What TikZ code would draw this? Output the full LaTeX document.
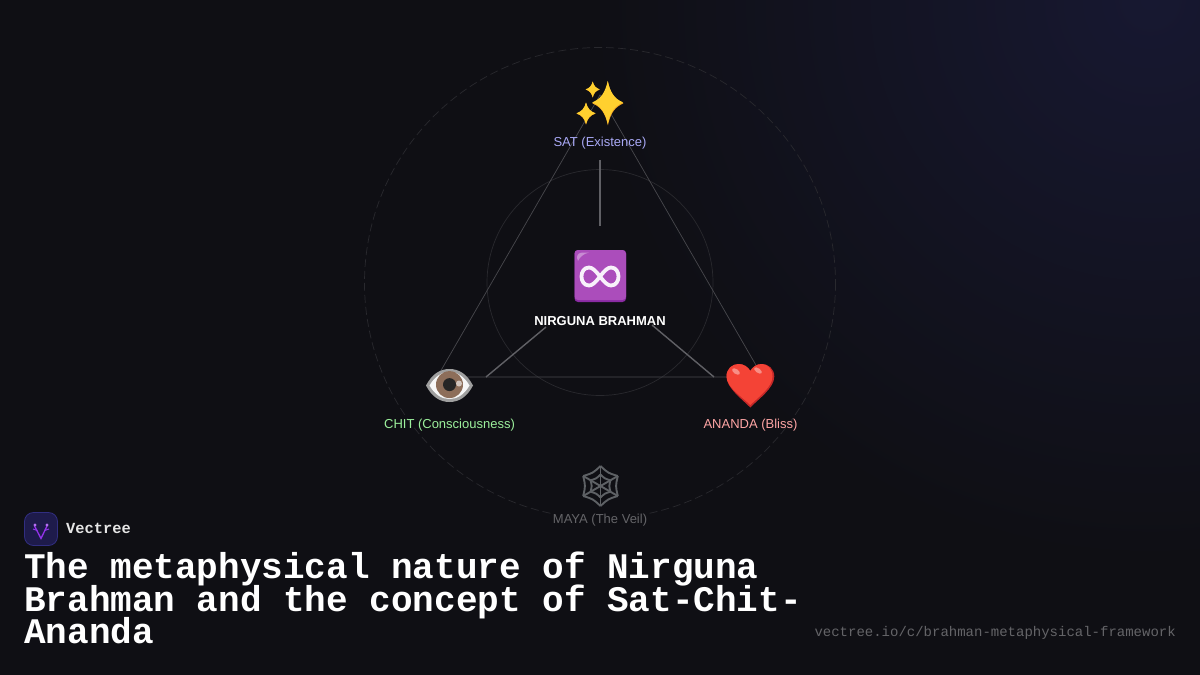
\documentclass[tikz,border=0pt]{standalone}
\usepackage{fontspec}
\setmainfont{Liberation Sans}
\setmonofont{Liberation Mono}
\definecolor{bgcol}{HTML}{0F0F14}
\definecolor{glowcol}{HTML}{171831}
\definecolor{satcol}{HTML}{A8A8F5}
\definecolor{chitcol}{HTML}{9CF09C}
\definecolor{anandacol}{HTML}{FFA5A5}
\definecolor{mayacol}{HTML}{646468}
\definecolor{ringcol}{HTML}{29292E}
\definecolor{triacol}{HTML}{48484D}
\definecolor{linkcol}{HTML}{606065}
\definecolor{starcol}{HTML}{FFD02F}
\definecolor{starlow}{HTML}{F5A623}
\definecolor{infcol}{HTML}{AB4DBB}
\definecolor{inflow}{HTML}{8A2BA3}
\definecolor{heartcol}{HTML}{F44336}
\definecolor{heartlow}{HTML}{C62828}
\definecolor{eyecol}{HTML}{8D6E5A}
\definecolor{webcol}{HTML}{5E6165}
\definecolor{logocol}{HTML}{1E1B4B}
\definecolor{logoedge}{HTML}{312E81}
\definecolor{logomark}{HTML}{9333EA}
\usepackage{tikz}
\usetikzlibrary{calc}
\tikzset{
  lab/.style={font=\fontsize{13}{15}\selectfont,inner sep=0pt},
  ttl/.style={font=\fontsize{36}{32.5}\selectfont\ttfamily\bfseries,white,inner sep=0pt,anchor=north west,align=left},
  weblin/.style={webcol,line width=1.9pt,line join=round}
}
% four-point star: colour, centre, half width, half height
\newcommand{\sparkle}[4]{%
  \fill[#1] ($(#2)+(0,-#4)$) .. controls ($(#2)+(0.16*#3,-0.45*#4)$) and ($(#2)+(0.45*#3,-0.16*#4)$) .. ($(#2)+(#3,0)$)
    .. controls ($(#2)+(0.45*#3,0.16*#4)$) and ($(#2)+(0.16*#3,0.45*#4)$) .. ($(#2)+(0,#4)$)
    .. controls ($(#2)+(-0.16*#3,0.45*#4)$) and ($(#2)+(-0.45*#3,0.16*#4)$) .. ($(#2)+(-#3,0)$)
    .. controls ($(#2)+(-0.45*#3,-0.16*#4)$) and ($(#2)+(-0.16*#3,-0.45*#4)$) .. cycle;}

\begin{document}
\begin{tikzpicture}[x=1pt,y=-1pt]
  \useasboundingbox (0,0) rectangle (1200,675);
  % ---------- background -------------------
  \fill[bgcol] (0,0) rectangle (1200,675);
  \begin{scope}
    \clip (0,0) rectangle (1200,675);
    \shade[inner color=glowcol,outer color=bgcol] (1150,0) circle (560);
  \end{scope}
  % ---------- rings and triangle -------------------
  \coordinate (centre) at (600,283);
  \coordinate (apex) at (600,95);
  \coordinate (left) at (437.2,377);
  \coordinate (right) at (762.8,377);
  \coordinate (supper) at (600,160);
  \coordinate (slower) at (600,226);
  \coordinate (lupper) at (546,327);
  \coordinate (llower) at (486,377);
  \coordinate (rupper) at (652,325);
  \coordinate (rlower) at (714,377);
  \draw[ringcol,line width=0.7pt,dash pattern=on 8pt off 4pt] (centre) circle (235.5);
  \draw[ringcol,line width=0.7pt] (600,282.5) circle (113);
  \draw[triacol,line width=0.7pt] (apex) -- (right) -- (left) -- cycle;
  \draw[linkcol,line width=1.4pt] (supper) -- (slower);
  \draw[linkcol,line width=1.4pt] (lupper) -- (llower);
  \draw[linkcol,line width=1.4pt] (rupper) -- (rlower);
  % ---------- sparkles (SAT) -------------------
  \sparkle{starlow}{607.9,103.4}{15.5}{22}
  \sparkle{starcol}{607.7,102.4}{15.5}{21.5}
  \sparkle{starlow}{592.7,89.6}{7}{8}
  \sparkle{starcol}{592.7,89.3}{7}{7.7}
  \sparkle{starlow}{586,113.6}{9.5}{11}
  \sparkle{starcol}{586,113.2}{9.5}{10.7}
  \node[lab,satcol] (sat) at (600,143.2) {SAT (Existence)};
  % ---------- infinity (NIRGUNA) -------------------
  \fill[inflow,rounded corners=3.5pt] (574.5,250) rectangle (626,302);
  \fill[infcol,rounded corners=3.5pt] (574.5,250) rectangle (626,300);
  \fill[white!35!infcol] (577,258) .. controls (577,254) and (579,252.5) .. (584,252.5) -- (589,252.5)
    .. controls (583,254) and (580,257) .. (578,261) -- cycle;
  \draw[white!92!infcol,line width=3.8pt]
    (600,276.5) .. controls (595,270) and (592,267.5) .. (589,267.5)
    .. controls (584,267.5) and (581.5,272) .. (581.5,276.5)
    .. controls (581.5,281) and (584,285.5) .. (589,285.5)
    .. controls (592,285.5) and (595,283) .. (600,276.5)
    .. controls (605,270) and (608,267.5) .. (611,267.5)
    .. controls (616,267.5) and (618.5,272) .. (618.5,276.5)
    .. controls (618.5,281) and (616,285.5) .. (611,285.5)
    .. controls (608,285.5) and (605,283) .. (600,276.5) -- cycle;
  \node[lab,white,font=\fontsize{13}{15}\selectfont\bfseries] (nirguna) at (600,321.5) {NIRGUNA BRAHMAN};
  % ---------- eye (CHIT) -------------------
  \fill[gray!75!white] (426,385.5) .. controls (432,374) and (440,369) .. (449.5,369)
    .. controls (459,369) and (467,374) .. (473,385.5)
    .. controls (467,397) and (459,402) .. (449.5,402)
    .. controls (440,402) and (432,397) .. (426,385.5) -- cycle;
  \fill[white!94!gray] (429.5,385.5) .. controls (435,376) and (442,372) .. (449.5,372)
    .. controls (457,372) and (464,376) .. (469.5,385.5)
    .. controls (464,395) and (457,399) .. (449.5,399)
    .. controls (442,399) and (435,395) .. (429.5,385.5) -- cycle;
  \fill[eyecol] (449.5,384.6) circle (13.5);
  \fill[black!85] (449.5,384.6) circle (6.5);
  \fill[eyecol!40!white] (459,383.5) circle (3);
  \node[lab,chitcol] (chit) at (449.5,425.2) {CHIT (Consciousness)};
  % ---------- heart (ANANDA) -------------------
  \fill[heartlow] (750.3,407.5) .. controls (742,399) and (726.5,388) .. (726.5,376.5)
    .. controls (726.5,368.5) and (732.5,364) .. (738.5,364)
    .. controls (744,364) and (748,367) .. (750.3,371)
    .. controls (752.5,367) and (756.5,364) .. (762,364)
    .. controls (768,364) and (774.3,368.5) .. (774.3,376.5)
    .. controls (774.3,388) and (758.5,399) .. (750.3,407.5) -- cycle;
  \fill[heartcol] (750.3,405) .. controls (742,397) and (726.5,387) .. (726.5,376.5)
    .. controls (726.5,368.5) and (732.5,364) .. (738.5,364)
    .. controls (744,364) and (748,367) .. (750.3,371)
    .. controls (752.5,367) and (756.5,364) .. (762,364)
    .. controls (767,364) and (772.5,368.5) .. (772.5,376.5)
    .. controls (772.5,387) and (758.5,397) .. (750.3,405) -- cycle;
  \fill[white!40!heartcol,rotate around={-35:(736,371.5)}] (736,371.5) ellipse (4.5 and 2.4);
  \fill[white!40!heartcol,rotate around={-35:(758,370.5)}] (758,370.5) ellipse (4.5 and 2.2);
  \node[lab,anandacol] (ananda) at (750.5,425.2) {ANANDA (Bliss)};
  % ---------- web (MAYA) -------------------
  \coordinate (webc) at (600.5,486);
  \foreach \a in {30,90,150,210,270,330}{
    \draw[weblin] (webc) -- ($(webc)+(\a:20)$);
    \draw[weblin] ($(webc)+(\a:20)$) .. controls ($(webc)+(\a+30:15)$) .. ($(webc)+(\a+60:20)$);
    \draw[weblin] ($(webc)+(\a:11.5)$) .. controls ($(webc)+(\a+30:8.5)$) .. ($(webc)+(\a+60:11.5)$);
  }
  \node[lab,mayacol,fill=bgcol,inner xsep=1pt,inner ysep=1pt] (maya) at (600,520.2) {MAYA (The Veil)};
  % ---------- logo and titles -------------------
  \draw[logoedge,fill=logocol,line width=0.8pt,rounded corners=9pt] (24.5,512.5) rectangle (57.5,545.5);
  \draw[logomark,line width=1.3pt] (34.5,526) -- (41,538.5) -- (47,526);
  \draw[logomark,line width=1pt] (33,529) -- (37.5,530.5);
  \draw[logomark,line width=1pt] (49,529) -- (44.5,530.5);
  \fill[logomark!70!white] (35,525) circle (1.6);
  \fill[logomark!70!white] (47,525) circle (1.6);
  \node[font=\fontsize{15.4}{18}\selectfont\ttfamily\bfseries,white!90!black,anchor=west,inner sep=0pt] (brand) at (66,528.5) {Vectree};
  \node[ttl] (title) at (24,552)
    {The metaphysical nature of Nirguna\\[-2.5pt]Brahman and the concept of Sat-Chit-\\[-2.5pt]Ananda};
  \node[font=\fontsize{14}{16}\selectfont\ttfamily,mayacol,anchor=east,inner sep=0pt] (url) at (1176,632.5) {vectree.io/c/brahman-metaphysical-framework};
\end{tikzpicture}
\end{document}
